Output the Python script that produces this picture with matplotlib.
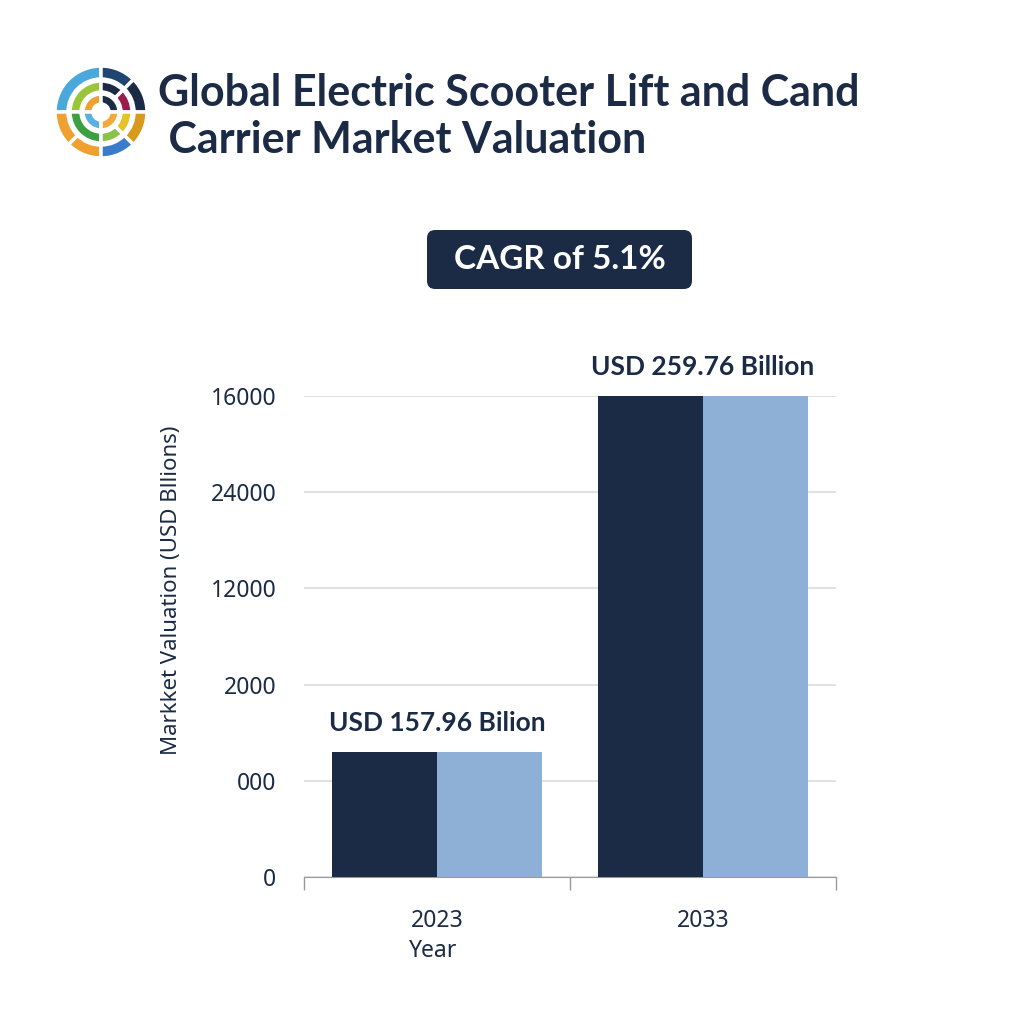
import numpy as np
import matplotlib
matplotlib.use("Agg")
import matplotlib.pyplot as plt
from matplotlib.patches import Wedge, FancyBboxPatch

plt.rcParams['font.family'] = ['Noto Sans', 'DejaVu Sans']
BOLD = ['Lato', 'DejaVu Sans']

# data (bar heights in grid steps, as drawn)
years = ["2023", "2033"]
dark_vals = [1.3, 5.0]
light_vals = [1.3, 5.0]
ytick_labels = ["0", "000", "2000", "12000", "24000", "16000"]
bar_labels = ["USD 157.96 Bilion", "USD 259.76 Billion"]
cagr_text = "CAGR of 5.1%"
title_1 = "Global Electric Scooter Lift and Cand"
title_2 = " Carrier Market Valuation"

navy = "#1c2b45"
light = "#8fb0d6"
grid_c = "#dcdcdc"

fig = plt.figure(figsize=(10.24, 10.24), dpi=100)
W = 1024.0

def fx(px):
    return px / W

def fy(py):
    return 1 - py / W

# --- logo ---
lax = fig.add_axes([fx(55), fy(158), fx(92), fx(92)])
lax.set_xlim(-46, 46)
lax.set_ylim(-46, 46)
lax.set_aspect('equal')
lax.axis('off')
rings = [
    # (r_out, width, [(theta1, theta2, color), ...])
    (46, 13, [(90, 180, "#4aa8dc"), (45, 90, "#1f4570"), (0, 45, navy),
              (180, 225, "#f0a030"), (225, 270, "#f0a030"),
              (270, 315, "#3b7bcc"), (315, 360, "#d99a1c")]),
    (31, 11, [(90, 180, "#9ac53a"), (45, 90, navy), (0, 45, "#9b1b4a"),
              (180, 270, "#3aa040"), (270, 315, "#8bc34a"), (315, 360, "#e6c229")]),
    (18, 10, [(90, 180, "#f0a030"), (0, 90, navy),
              (180, 270, "#5ab0e0"), (270, 360, "#f2a93b")]),
]
for r, w, segs in rings:
    for t1, t2, c in segs:
        lax.add_patch(Wedge((0, 0), r, t1, t2, width=w, facecolor=c,
                            edgecolor="white", linewidth=2.5))

# --- title ---
fig.text(fx(158), fy(93), title_1, fontsize=31, fontweight='bold', color=navy,
         va='center', ha='left', family=BOLD)
fig.text(fx(158), fy(140), title_2, fontsize=31, fontweight='bold', color=navy,
         va='center', ha='left', family=BOLD)

# --- CAGR box ---
bw, bh = fx(265), fx(59)
cx, cy = fx(559.5), fy(259.5)
fig.patches.append(FancyBboxPatch((cx - bw / 2, cy - bh / 2), bw, bh,
                                  boxstyle="round,pad=0,rounding_size=0.008",
                                  transform=fig.transFigure, facecolor=navy,
                                  edgecolor='none'))
fig.text(cx, cy, cagr_text, fontsize=24, fontweight='bold', color='white',
         ha='center', va='center', family=BOLD)

# --- bar chart ---
ax = fig.add_axes([fx(304), fy(877), fx(532), fx(481)])
x = np.arange(len(years))
bw_bar = 0.395
ax.bar(x - bw_bar / 2, dark_vals, width=bw_bar, color=navy, zorder=3)
ax.bar(x + bw_bar / 2, light_vals, width=bw_bar, color=light, zorder=3)

ax.set_xlim(-0.5, 1.5)
ax.set_ylim(0, 5)
ax.set_yticks(range(len(ytick_labels)))
ax.set_yticklabels(ytick_labels)
ax.yaxis.grid(True, color=grid_c, linewidth=1.2, zorder=0)
ax.tick_params(axis='y', length=0, pad=20, labelsize=16.5, labelcolor=navy)

ax.set_xticks(x)
ax.set_xticklabels(years)
ax.tick_params(axis='x', which='major', length=0, pad=23, labelsize=16.5,
               labelcolor=navy)
ax.set_xticks([-0.5, 0.5, 1.5], minor=True)
ax.tick_params(axis='x', which='minor', length=9, width=1, color="#999999",
               direction='out')

for s in ['top', 'right', 'left']:
    ax.spines[s].set_visible(False)
ax.spines['bottom'].set_color("#999999")

for xi, v, lab in zip(x, dark_vals, bar_labels):
    ax.annotate(lab, (xi, v), xytext=(0, 12), textcoords='offset points',
                ha='center', va='bottom', fontsize=19, fontweight='bold',
                color=navy, annotation_clip=False, family=BOLD)

fig.text(fx(433), fy(951), "Year", fontsize=16.5, color=navy,
         ha='center', va='center')
fig.text(fx(172), fy(590), "Markket Valuation (USD Bllions)", fontsize=16,
         color=navy, rotation=90, ha='center', va='center')

fig.savefig("out.png", dpi=100, facecolor='white')
